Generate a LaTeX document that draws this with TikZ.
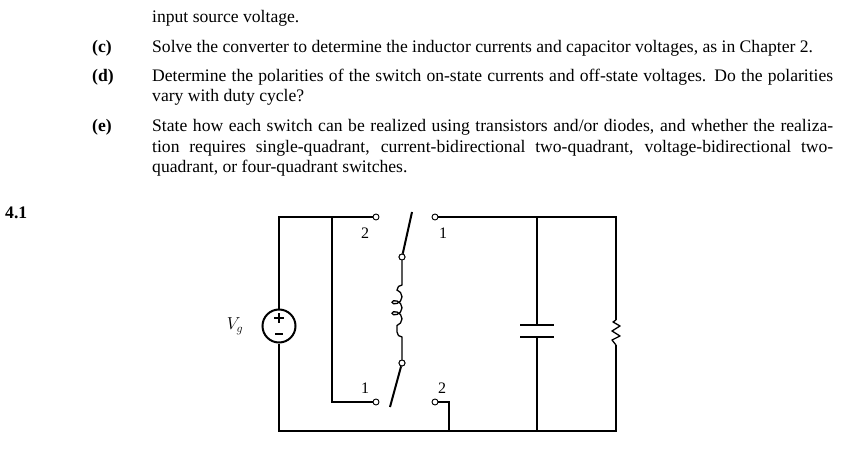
\documentclass[tikz,border=0pt]{standalone}
\usepackage{fontspec}
\usetikzlibrary{decorations.pathmorphing}
\setmainfont{Liberation Serif}
\begin{document}
\begin{tikzpicture}[x=1pt,y=-1pt,
  txt/.style={anchor=west,inner sep=0pt,font=\fontsize{17.6}{24}\selectfont},
  lbl/.style={anchor=west,inner sep=0pt,font=\fontsize{17.6}{24}\selectfont\bfseries},
  par/.style={anchor=west,inner sep=0pt,text width=681pt,align=justify,font=\fontsize{17.6}{20.5}\selectfont},
  wire/.style={line width=1.3pt},
  term/.style={circle,draw,line width=0.9pt,fill=white,inner sep=0pt,minimum size=6pt},
  num/.style={inner sep=0pt,font=\fontsize{16}{16}\selectfont}]
\useasboundingbox (0,0) rectangle (859,449);
\node[txt] (t0) at (152,18) {input source voltage.};
\node[lbl] (lc) at (92,48) {(c)};
\node[txt] (tc) at (152,48) {Solve the converter to determine the inductor currents and capacitor voltages, as in Chapter 2.};
\node[lbl] (ld) at (92,77) {(d)};
\node[par] (td) at (152,87) {Determine the polarities of the switch on-state currents and off-state voltages. Do the polarities\linebreak vary with duty cycle?};
\node[lbl] (le) at (92,127) {(e)};
\node[par] (te) at (152,148) {State how each switch can be realized using transistors and/or diodes, and whether the realiza-\linebreak tion requires single-quadrant, current-bidirectional two-quadrant, voltage-bidirectional two-\linebreak quadrant, or four-quadrant switches.};
\node[lbl] (l41) at (5,213) {4.1};
% circuit
\node[circle,draw,line width=2pt,minimum size=33pt,inner sep=0pt] (src) at (279,326) {};
\draw[line width=1.1pt] (274,318) -- (284,318) (279,313) -- (279,323);
\draw[line width=1.1pt] (275,334) -- (283,334);
\node[font=\fontsize{17}{17}\selectfont] (vg) at (235,326) {$V_g$};
\coordinate (tl) at (279,217); \coordinate (bl) at (279,431);
\coordinate (br) at (616,431); \coordinate (tr) at (616,217);
\node[term] (a2) at (376,217) {};
\node[term] (a1) at (435,217) {};
\node[term] (b1) at (376,402) {};
\node[term] (b2) at (435,402) {};
\node[term] (s1) at (402,257) {};
\node[term] (s2) at (402,363) {};
\draw[wire] (src.north) -- (tl) -- (a2.west);
\draw[wire] (src.south) -- (bl) -- (br) -- (616,345);
\draw[wire] (332,217) -- (332,402) -- (b1.west);
\draw[wire] (a1.east) -- (tr) -- (616,320);
\draw[wire] (b2.east) -- (449,402) -- (449,431);
% resistor
\draw[wire,line join=round] (616,320) -- (613,322) -- (620,326) -- (612,331) -- (620,336) -- (612,340) -- (616,345);
% capacitor
\draw[wire] (537,217) -- (537,325); \draw[wire] (537,337) -- (537,431);
\draw[line width=2.6pt] (520,325) -- (554,325);
\draw[line width=2.6pt] (520,337) -- (554,337);
% switch blades
\draw[line width=2pt] (s1) -- (412,212);
\draw[line width=2pt] (s2) -- (390,407);
% inductor
\draw[wire] (s1.south) -- (402,285) arc[start angle=270,end angle=180,radius=5]
  decorate[decoration={coil,amplitude=5pt,segment length=11pt,aspect=0.8}]{-- (397,332)}
  arc[start angle=180,end angle=90,radius=5] -- (s2.north);
\node[term] at (402,257) {};
\node[term] at (402,363) {};
\node[num] (n1) at (365,233) {2};
\node[num] (n2) at (443,233) {1};
\node[num] (n3) at (365,388) {1};
\node[num] (n4) at (442,388) {2};
\end{tikzpicture}
\end{document}
